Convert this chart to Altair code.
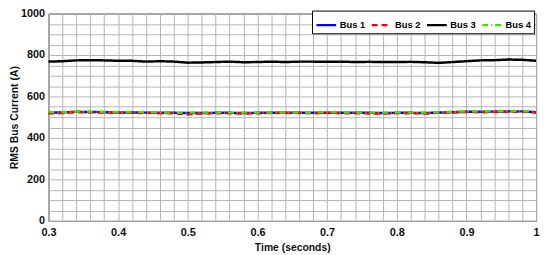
import altair as alt
import pandas as pd

times = [round(0.30 + 0.02 * i, 2) for i in range(36)]
bus1 = [522, 523, 526, 525, 524, 522, 523, 522, 521, 521, 520, 520, 521, 521, 520, 521, 521, 521,
        522, 521, 522, 521, 521, 521, 520, 521, 521, 520, 522, 524, 526, 526, 527, 528, 528, 524]
bus2 = [518, 520, 524, 524, 522, 521, 521, 520, 519, 519, 514, 518, 519, 519, 518, 519, 520, 520,
        520, 519, 521, 519, 519, 518, 518, 519, 519, 518, 521, 522, 525, 524, 525, 526, 527, 522]
bus3 = [768, 770, 774, 775, 774, 772, 772, 768, 770, 768, 763, 764, 766, 768, 765, 766, 768, 766,
        768, 768, 767, 768, 766, 767, 766, 766, 767, 765, 762, 766, 770, 774, 775, 778, 777, 772]
bus4 = [524, 525, 527, 527, 526, 525, 525, 524, 523, 522, 522, 522, 523, 522, 522, 522, 523, 523,
        523, 523, 524, 523, 523, 522, 522, 523, 523, 522, 524, 526, 528, 528, 529, 530, 530, 526]

series_names = ["Bus 1", "Bus 2", "Bus 3", "Bus 4"]
series_colors = ["#0000ff", "#ff0000", "#000000", "#44dd00"]
series_dashes = [[1, 0], [6, 4], [1, 0], [6, 3, 1, 3]]
x_grid = [round(0.30 + 0.02 * i, 2) for i in range(36)]
y_grid = list(range(0, 1001, 50))

rows = []
for name, vals in zip(series_names, [bus1, bus2, bus3, bus4]):
    for t, v in zip(times, vals):
        rows.append({"t": t, "val": v, "series": name, "order": series_names.index(name)})
df = pd.DataFrame(rows)

chart = alt.Chart(df).mark_line(strokeWidth=2.5).encode(
    x=alt.X("t:Q", title="Time (seconds)",
            scale=alt.Scale(domain=[0.3, 1.0], nice=False, zero=False),
            axis=alt.Axis(values=x_grid, labelExpr="abs(round(datum.value*10) - datum.value*10) < 0.001 ? format(datum.value, '~g') : ''",
                          labelOverlap=False, labelFlush=False, ticks=False, domain=False,
                          labelPadding=6, titlePadding=5)),
    y=alt.Y("val:Q", title="RMS Bus Current (A)",
            scale=alt.Scale(domain=[0, 1000], nice=False),
            axis=alt.Axis(values=y_grid, labelExpr="datum.value % 200 == 0 ? format(datum.value, 'd') : ''",
                          labelOverlap=False, ticks=False, domain=False, labelPadding=4,
                          titlePadding=1)),
    color=alt.Color("series:N", scale=alt.Scale(domain=series_names, range=series_colors),
                    legend=alt.Legend(title=None, orient="none", legendX=267, legendY=-3,
                                      direction="horizontal", columns=4, symbolType="stroke",
                                      symbolSize=400, symbolStrokeWidth=2.5,
                                      labelFontSize=9.5, labelFontWeight="bold",
                                      fillColor="white", strokeColor="black", padding=3,
                                      columnPadding=1, labelOffset=2)),
    strokeDash=alt.StrokeDash("series:N", scale=alt.Scale(domain=series_names, range=series_dashes)),
    order="order:Q",
    detail="series:N",
).properties(
    width=494, height=210,
    autosize=alt.AutoSizeParams(type="none"),
    padding={"left": 41, "top": 4, "right": 6, "bottom": 32},
).configure_axis(
    gridColor="#b4b4b4", gridWidth=1, gridOpacity=1,
    labelFont="Liberation Sans", labelFontSize=11, labelFontWeight="bold", labelColor="#111",
    titleFont="Liberation Sans", titleFontSize=10.5, titleFontWeight="bold", titleColor="#111",
).configure_legend(
    labelFont="Liberation Sans",
).configure_view(
    stroke="#333", strokeWidth=1,
)

chart.save("out.html", embed_options={"renderer": "svg", "actions": False})
